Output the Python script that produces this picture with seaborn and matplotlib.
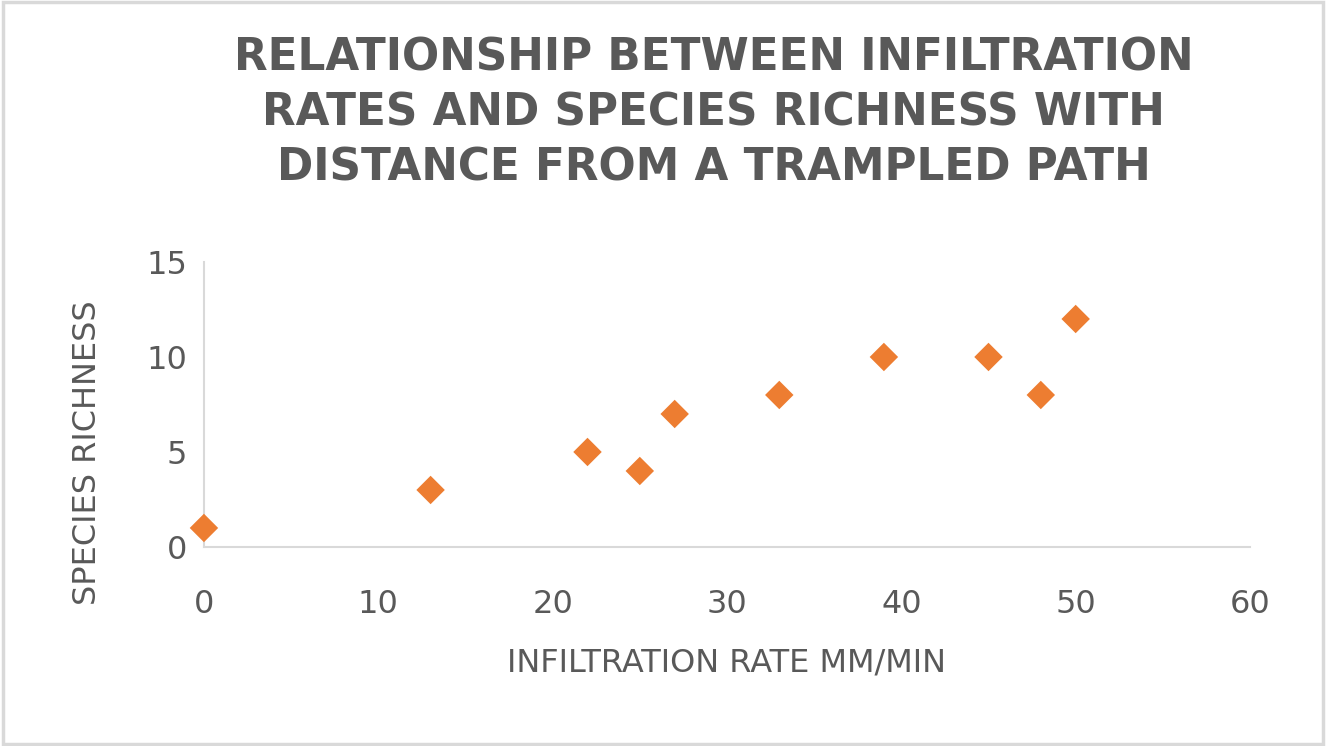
import matplotlib
matplotlib.use('Agg')
import matplotlib.pyplot as plt
import seaborn as sns
import pandas as pd
from matplotlib.patches import Rectangle

# ----- data -----
infiltration = [0, 13, 22, 25, 27, 33, 39, 45, 48, 50]
richness = [1, 3, 5, 4, 7, 8, 10, 10, 8, 12]
x_ticks = [0, 10, 20, 30, 40, 50, 60]
y_ticks = [0, 5, 10, 15]
title_lines = ["RELATIONSHIP BETWEEN INFILTRATION",
               "RATES AND SPECIES RICHNESS WITH",
               "DISTANCE FROM A TRAMPLED PATH"]

df = pd.DataFrame({'rate': infiltration, 'richness': richness})

sns.set_style('white')
plt.rcParams['font.family'] = ['DejaVu Sans']

grey = '#595959'
fig = plt.figure(figsize=(13.26, 7.46), dpi=100)
ax = fig.add_axes([0.1538, 0.2668, 0.7889, 0.382])

sns.scatterplot(data=df, x='rate', y='richness', marker='D', s=210,
                color='#ED7D31', edgecolor='none', ax=ax, zorder=3, clip_on=False)

ax.set_xlim(0, 60)
ax.set_ylim(0, 15)
ax.set_xticks(x_ticks)
ax.set_yticks(y_ticks)
ax.tick_params(axis='x', length=0, pad=30, labelsize=23, labelcolor=grey)
ax.tick_params(axis='y', length=0, pad=12, labelsize=23, labelcolor=grey)

for s in ['top', 'right']:
    ax.spines[s].set_visible(False)
for s in ['left', 'bottom']:
    ax.spines[s].set_color('#d9d9d9')
    ax.spines[s].set_linewidth(1.5)

ax.set_xlabel('INFILTRATION RATE MM/MIN', fontsize=23, color=grey)
ax.set_ylabel('SPECIES RICHNESS', fontsize=23, color=grey)
ax.xaxis.set_label_coords(0.5, -0.407)
ax.yaxis.set_label_coords(-0.111, 0.33)
ax.xaxis.label.set_va('center')
ax.yaxis.label.set_va('center')

# title, three centred lines
for i, line in enumerate(title_lines):
    fig.text(0.538, 1 - (58 + i * 55) / 746, line, ha='center', va='center',
             fontsize=31.5, fontweight='bold', color=grey)

# light frame round the chart
fig.patches.append(Rectangle((0.002, 0.003), 0.996, 0.994, transform=fig.transFigure,
                             fill=False, edgecolor='#d9d9d9', linewidth=2.5))

fig.savefig('out.png', dpi=100)
